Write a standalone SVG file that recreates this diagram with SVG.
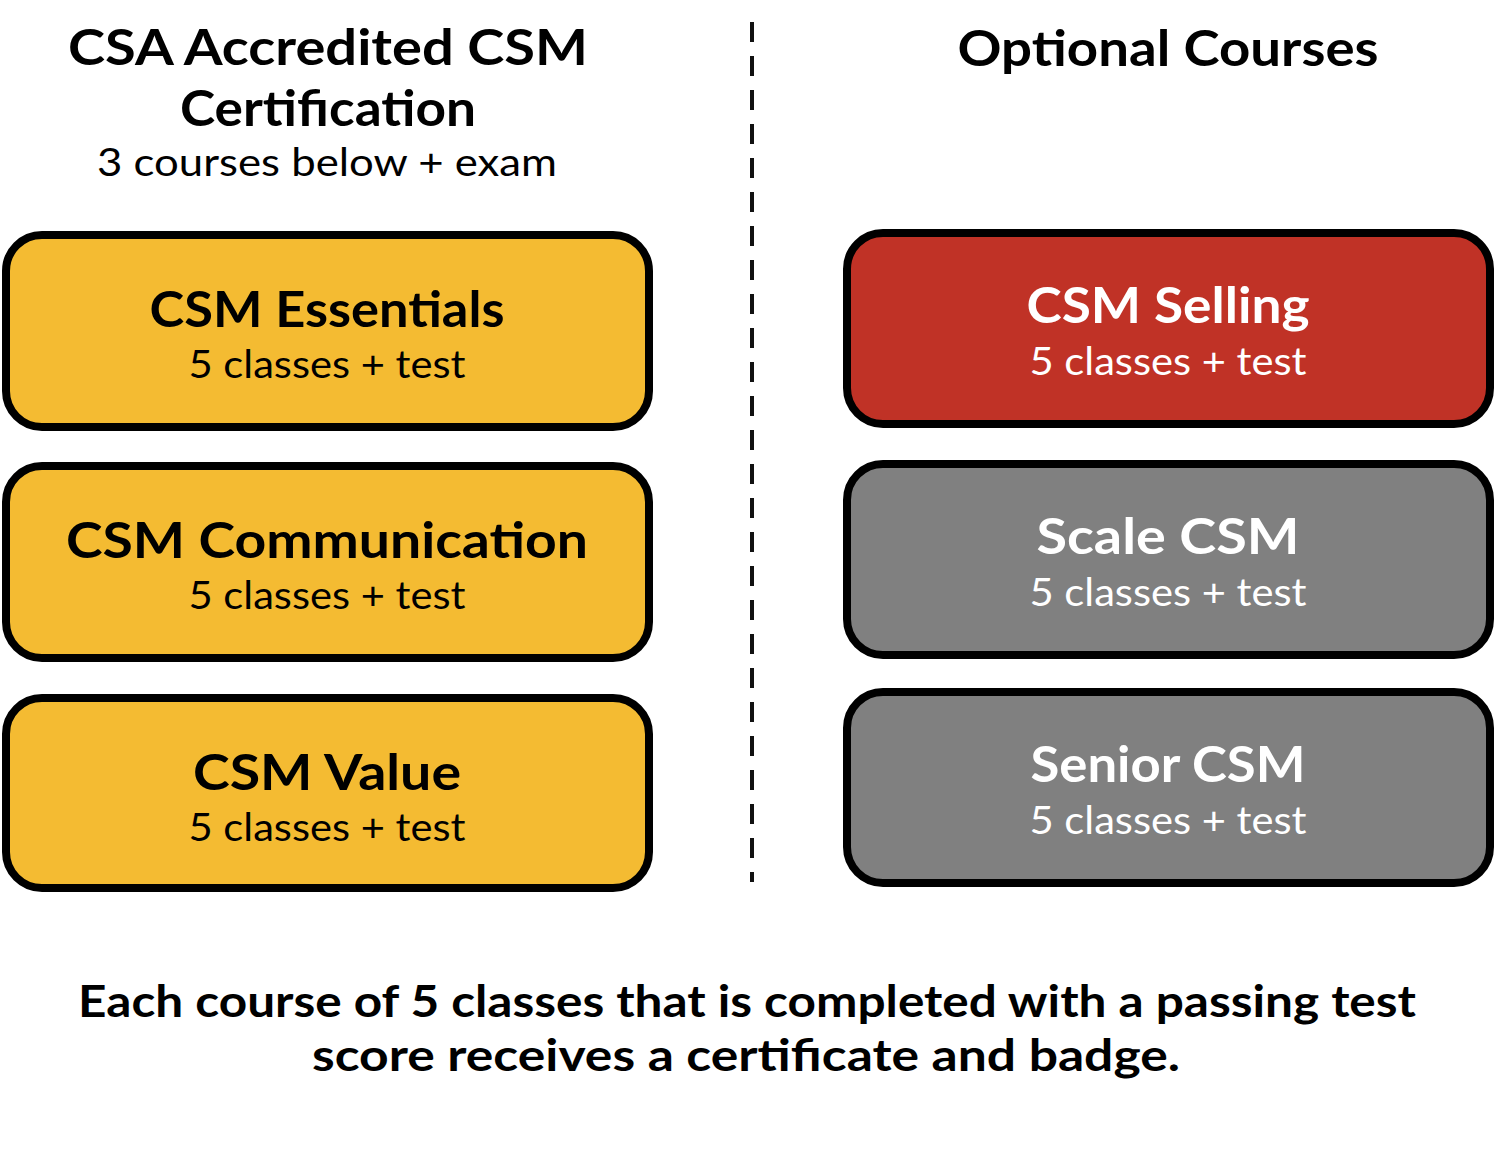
<svg xmlns="http://www.w3.org/2000/svg" width="1500" height="1164" viewBox="0 0 1500 1164">
<style>
.box{stroke:#000;stroke-width:8}
.y{fill:#F4BB32}.r{fill:#C03226}.g{fill:#808080}
text{font-family:Lato,"Noto Sans",sans-serif;text-anchor:middle}
.h{font-weight:700;font-size:50px}
.s{font-weight:400;font-size:38px}
.w{fill:#fff}
</style>
<rect width="1500" height="1164" fill="#fff"/>
<g id="connectors"><line x1="752" y1="22" x2="752" y2="882" stroke="#111" stroke-width="4" stroke-dasharray="20 14"/></g>
<g id="titles">
<text class="h" x="328" y="65" textLength="520" lengthAdjust="spacingAndGlyphs">CSA Accredited CSM</text>
<text class="h" x="328" y="126" textLength="296" lengthAdjust="spacingAndGlyphs">Certification</text>
<text class="s" x="327" y="176" textLength="460" lengthAdjust="spacingAndGlyphs">3 courses below + exam</text>
<text class="h" x="1168" y="66" textLength="421" lengthAdjust="spacingAndGlyphs">Optional Courses</text>
</g>
<g id="essentials"><rect class="box y" x="6" y="235" width="643" height="192" rx="36"/>
<text class="h" x="327" y="327" textLength="355" lengthAdjust="spacingAndGlyphs">CSM Essentials</text>
<text class="s" x="327" y="378" textLength="277" lengthAdjust="spacingAndGlyphs">5 classes + test</text></g>
<g id="communication"><rect class="box y" x="6" y="466" width="643" height="192" rx="36"/>
<text class="h" x="327" y="558" textLength="522" lengthAdjust="spacingAndGlyphs">CSM Communication</text>
<text class="s" x="327" y="609" textLength="277" lengthAdjust="spacingAndGlyphs">5 classes + test</text></g>
<g id="value"><rect class="box y" x="6" y="698" width="643" height="190" rx="36"/>
<text class="h" x="327" y="790" textLength="268" lengthAdjust="spacingAndGlyphs">CSM Value</text>
<text class="s" x="327" y="841" textLength="277" lengthAdjust="spacingAndGlyphs">5 classes + test</text></g>
<g id="selling"><rect class="box r" x="847" y="233" width="643" height="191" rx="36"/>
<text class="h w" x="1168" y="323" textLength="283" lengthAdjust="spacingAndGlyphs">CSM Selling</text>
<text class="s w" x="1168" y="375" textLength="277" lengthAdjust="spacingAndGlyphs">5 classes + test</text></g>
<g id="scale"><rect class="box g" x="847" y="464" width="643" height="191" rx="36"/>
<text class="h w" x="1168" y="554" textLength="263" lengthAdjust="spacingAndGlyphs">Scale CSM</text>
<text class="s w" x="1168" y="606" textLength="277" lengthAdjust="spacingAndGlyphs">5 classes + test</text></g>
<g id="senior"><rect class="box g" x="847" y="692" width="643" height="191" rx="36"/>
<text class="h w" x="1168" y="782" textLength="275" lengthAdjust="spacingAndGlyphs">Senior CSM</text>
<text class="s w" x="1168" y="834" textLength="277" lengthAdjust="spacingAndGlyphs">5 classes + test</text></g>
<g id="footer">
<text class="h" style="font-size:44px" x="747" y="1017" textLength="1338" lengthAdjust="spacingAndGlyphs">Each course of 5 classes that is completed with a passing test</text>
<text class="h" style="font-size:44px" x="746" y="1071" textLength="868" lengthAdjust="spacingAndGlyphs">score receives a certificate and badge.</text>
</g>
</svg>
